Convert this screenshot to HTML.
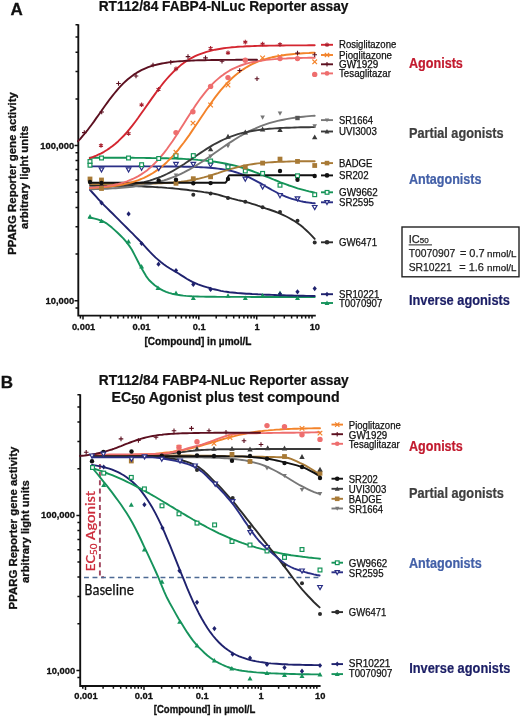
<!DOCTYPE html>
<html><head><meta charset="utf-8"><title>PPARG reporter assay</title>
<style>html,body{margin:0;padding:0;background:#fff;}svg{display:block;}</style>
</head><body>
<svg width="520" height="717" viewBox="0 0 520 717" font-family='"Liberation Sans", Arial, Helvetica, sans-serif'>
<rect width="520" height="717" fill="#fff"/>
<text x="10.6" y="14.8" font-size="17" font-weight="bold" fill="#111" stroke="#111" stroke-width="0.3">A</text>
<text x="98.7" y="11.3" font-size="14" font-weight="bold" fill="#111" textLength="249.8" lengthAdjust="spacingAndGlyphs" stroke="#111" stroke-width="0.22">RT112/84 FABP4-NLuc Reporter assay</text>
<path d="M78.3 24.2V316.6M77.4 315.6H315.8" stroke="#111" stroke-width="1.9" fill="none"/>
<path d="M75.5 307.9H78.3M74.5 300.8H78.3M75.5 254.1H78.3M75.5 226.8H78.3M75.5 207.4H78.3M75.5 192.3H78.3M75.5 180.0H78.3M75.5 169.6H78.3M75.5 160.6H78.3M75.5 152.7H78.3M74.5 145.6H78.3M75.5 98.9H78.3M75.5 71.6H78.3M75.5 52.2H78.3M75.5 37.1H78.3M75.5 24.8H78.3M80.4 315.6V318.4M83.0 315.6V319.6M100.4 315.6V318.4M110.6 315.6V318.4M117.9 315.6V318.4M123.5 315.6V318.4M128.1 315.6V318.4M131.9 315.6V318.4M135.3 315.6V318.4M138.3 315.6V318.4M140.9 315.6V319.6M158.3 315.6V318.4M168.5 315.6V318.4M175.8 315.6V318.4M181.4 315.6V318.4M186.0 315.6V318.4M189.8 315.6V318.4M193.2 315.6V318.4M196.2 315.6V318.4M198.8 315.6V319.6M216.2 315.6V318.4M226.4 315.6V318.4M233.7 315.6V318.4M239.3 315.6V318.4M243.9 315.6V318.4M247.7 315.6V318.4M251.1 315.6V318.4M254.1 315.6V318.4M256.7 315.6V319.6M274.1 315.6V318.4M284.3 315.6V318.4M291.6 315.6V318.4M297.2 315.6V318.4M301.8 315.6V318.4M305.6 315.6V318.4M309.0 315.6V318.4M312.0 315.6V318.4" stroke="#111" stroke-width="1.5" fill="none"/>
<text x="74.2" y="149.2" font-size="9.4" font-weight="bold" text-anchor="end" fill="#111" stroke="#111" stroke-width="0.3">100,000</text>
<text x="74.2" y="304.4" font-size="9.4" font-weight="bold" text-anchor="end" fill="#111" stroke="#111" stroke-width="0.3">10,000</text>
<text x="83.6" y="330" font-size="9.3" font-weight="bold" text-anchor="middle" fill="#111" stroke="#111" stroke-width="0.3">0.001</text>
<text x="141.5" y="330" font-size="9.3" font-weight="bold" text-anchor="middle" fill="#111" stroke="#111" stroke-width="0.3">0.01</text>
<text x="199.3" y="330" font-size="9.3" font-weight="bold" text-anchor="middle" fill="#111" stroke="#111" stroke-width="0.3">0.1</text>
<text x="257.2" y="330" font-size="9.3" font-weight="bold" text-anchor="middle" fill="#111" stroke="#111" stroke-width="0.3">1</text>
<text x="314.8" y="330" font-size="9.3" font-weight="bold" text-anchor="middle" fill="#111" stroke="#111" stroke-width="0.3">10</text>
<text x="144.5" y="344.6" font-size="10.2" font-weight="bold" textLength="107" lengthAdjust="spacingAndGlyphs" fill="#111" stroke="#111" stroke-width="0.3">[Compound] in µmol/L</text>
<text transform="translate(15.5 254.8) rotate(-90)" font-size="11.35" font-weight="bold" textLength="162.7" lengthAdjust="spacingAndGlyphs" fill="#111" stroke="#111" stroke-width="0.3">PPARG Reporter gene activity</text>
<text transform="translate(28 228.9) rotate(-90)" font-size="11.35" font-weight="bold" textLength="103.3" lengthAdjust="spacingAndGlyphs" fill="#111" stroke="#111" stroke-width="0.3">arbitrary light units</text>
<path d="M89.0 217.8 L91.9 218.0 L94.7 218.6 L97.6 219.4 L100.4 220.4 L103.3 221.5 L106.1 223.1 L109.0 225.2 L111.9 227.6 L114.7 230.1 L117.6 232.8 L120.4 235.5 L123.3 238.4 L126.1 241.7 L129.0 245.4 L131.9 249.7 L134.7 255.1 L137.6 260.8 L140.4 266.3 L143.3 271.3 L146.1 276.1 L149.0 280.0 L151.9 282.8 L154.7 285.2 L157.6 287.2 L160.4 289.1 L163.3 290.7 L166.1 291.9 L169.0 292.9 L171.9 293.7 L174.7 294.3 L177.6 294.8 L180.4 295.2 L183.3 295.6 L186.1 295.9 L189.0 296.1 L191.9 296.3 L194.7 296.4 L197.6 296.5 L200.4 296.6 L203.3 296.6 L206.1 296.7 L209.0 296.8 L211.8 296.8 L214.7 296.8 L217.6 296.9 L220.4 296.9 L223.3 296.9 L226.1 296.9 L229.0 296.9 L231.8 296.9 L234.7 296.9 L237.6 296.9 L240.4 296.9 L243.3 296.9 L246.1 296.9 L249.0 296.9 L251.8 297.0 L254.7 297.0 L257.6 297.0 L260.4 297.0 L263.3 297.0 L266.1 297.0 L269.0 297.0 L271.8 297.0 L274.7 297.0 L277.6 297.0 L280.4 297.0 L283.3 297.0 L286.1 297.0 L289.0 297.0 L291.8 297.0 L294.7 297.0 L297.6 297.0 L300.4 297.0 L303.3 297.0 L306.1 297.0 L309.0 297.0 L311.8 297.0 L314.7 297.0" stroke="#16935c" stroke-width="1.9" fill="none" stroke-linejoin="round" stroke-linecap="round"/>
<path d="M90.0 189.8 L92.8 193.0 L95.7 196.2 L98.5 199.3 L101.4 202.4 L104.2 205.3 L107.1 208.2 L109.9 211.0 L112.8 213.8 L115.6 216.6 L118.4 219.4 L121.3 222.3 L124.1 225.1 L127.0 228.0 L129.8 230.8 L132.7 233.7 L135.5 236.6 L138.4 239.5 L141.2 242.4 L144.0 245.4 L146.9 248.6 L149.7 251.7 L152.6 254.6 L155.4 257.4 L158.3 259.9 L161.1 262.3 L164.0 264.5 L166.8 266.5 L169.6 268.3 L172.5 270.0 L175.3 271.6 L178.2 273.3 L181.0 275.1 L183.9 276.9 L186.7 278.7 L189.6 280.4 L192.4 281.9 L195.2 283.1 L198.1 284.3 L200.9 285.3 L203.8 286.3 L206.6 287.2 L209.5 288.0 L212.3 288.8 L215.1 289.5 L218.0 290.2 L220.8 290.9 L223.7 291.4 L226.5 291.8 L229.4 292.2 L232.2 292.5 L235.1 292.8 L237.9 293.1 L240.7 293.3 L243.6 293.5 L246.4 293.7 L249.3 293.8 L252.1 294.0 L255.0 294.1 L257.8 294.3 L260.7 294.4 L263.5 294.6 L266.3 294.7 L269.2 294.8 L272.0 294.9 L274.9 295.0 L277.7 295.1 L280.6 295.2 L283.4 295.3 L286.3 295.4 L289.1 295.5 L291.9 295.5 L294.8 295.6 L297.6 295.7 L300.5 295.8 L303.3 295.8 L306.2 295.9 L309.0 295.9 L311.9 296.0 L314.7 296.0" stroke="#1f226e" stroke-width="1.9" fill="none" stroke-linejoin="round" stroke-linecap="round"/>
<path d="M90.0 185.0 L92.8 185.0 L95.7 185.0 L98.5 185.1 L101.4 185.1 L104.2 185.1 L107.1 185.2 L109.9 185.3 L112.8 185.3 L115.6 185.4 L118.4 185.5 L121.3 185.6 L124.1 185.7 L127.0 185.8 L129.8 185.9 L132.7 186.0 L135.5 186.1 L138.4 186.3 L141.2 186.4 L144.0 186.5 L146.9 186.7 L149.7 186.8 L152.6 186.9 L155.4 187.1 L158.3 187.3 L161.1 187.4 L164.0 187.6 L166.8 187.9 L169.6 188.1 L172.5 188.3 L175.3 188.6 L178.2 188.9 L181.0 189.2 L183.9 189.5 L186.7 189.8 L189.6 190.2 L192.4 190.5 L195.2 190.9 L198.1 191.3 L200.9 191.6 L203.8 192.1 L206.6 192.5 L209.5 192.9 L212.3 193.4 L215.1 194.0 L218.0 194.7 L220.8 195.5 L223.7 196.3 L226.5 197.1 L229.4 197.9 L232.2 198.7 L235.1 199.4 L237.9 200.1 L240.7 200.7 L243.6 201.4 L246.4 202.1 L249.3 202.9 L252.1 203.8 L255.0 204.7 L257.8 205.7 L260.7 206.6 L263.5 207.6 L266.3 208.6 L269.2 209.5 L272.0 210.5 L274.9 211.5 L277.7 212.6 L280.6 213.8 L283.4 215.1 L286.3 216.5 L289.1 218.0 L291.9 219.6 L294.8 221.3 L297.6 223.2 L300.5 225.3 L303.3 227.6 L306.2 230.2 L309.0 232.9 L311.9 235.8 L314.7 238.9" stroke="#2c2c2c" stroke-width="1.9" fill="none" stroke-linejoin="round" stroke-linecap="round"/>
<path d="M90.0 166.4 L92.8 166.4 L95.7 166.4 L98.5 166.4 L101.4 166.4 L104.2 166.4 L107.1 166.4 L109.9 166.4 L112.8 166.4 L115.6 166.4 L118.4 166.4 L121.3 166.4 L124.1 166.4 L127.0 166.4 L129.8 166.4 L132.7 166.4 L135.5 166.4 L138.4 166.4 L141.2 166.4 L144.0 166.4 L146.9 166.4 L149.7 166.4 L152.6 166.4 L155.4 166.5 L158.3 166.5 L161.1 166.5 L164.0 166.5 L166.8 166.5 L169.6 166.5 L172.5 166.5 L175.3 166.6 L178.2 166.6 L181.0 166.6 L183.9 166.7 L186.7 166.8 L189.6 166.8 L192.4 166.9 L195.2 167.0 L198.1 167.1 L200.9 167.2 L203.8 167.4 L206.6 167.5 L209.5 167.8 L212.3 168.0 L215.1 168.3 L218.0 168.6 L220.8 169.0 L223.7 169.4 L226.5 170.0 L229.4 170.5 L232.2 171.2 L235.1 172.0 L237.9 172.9 L240.7 173.8 L243.6 174.9 L246.4 176.1 L249.3 177.4 L252.1 178.8 L255.0 180.3 L257.8 181.8 L260.7 183.4 L263.5 185.1 L266.3 186.7 L269.2 188.4 L272.0 190.0 L274.9 191.5 L277.7 193.0 L280.6 194.4 L283.4 195.6 L286.3 196.8 L289.1 197.9 L291.9 198.8 L294.8 199.7 L297.6 200.4 L300.5 201.1 L303.3 201.7 L306.2 202.2 L309.0 202.6 L311.9 203.0 L314.7 203.3" stroke="#2a2f86" stroke-width="1.9" fill="none" stroke-linejoin="round" stroke-linecap="round"/>
<path d="M89.8 157.7 L92.6 157.7 L95.5 157.7 L98.3 157.7 L101.2 157.7 L104.0 157.7 L106.9 157.7 L109.7 157.7 L112.6 157.8 L115.4 157.8 L118.3 157.8 L121.1 157.8 L124.0 157.8 L126.8 157.8 L129.7 157.8 L132.5 157.8 L135.3 157.9 L138.2 157.9 L141.0 157.9 L143.9 157.9 L146.7 158.0 L149.6 158.0 L152.4 158.1 L155.3 158.1 L158.1 158.1 L161.0 158.2 L163.8 158.3 L166.7 158.3 L169.5 158.4 L172.4 158.5 L175.2 158.6 L178.1 158.7 L180.9 158.8 L183.7 158.9 L186.6 159.1 L189.4 159.3 L192.3 159.4 L195.1 159.6 L198.0 159.9 L200.8 160.1 L203.7 160.4 L206.5 160.7 L209.4 161.0 L212.2 161.4 L215.1 161.8 L217.9 162.2 L220.8 162.7 L223.6 163.2 L226.4 163.8 L229.3 164.4 L232.1 165.0 L235.0 165.7 L237.8 166.5 L240.7 167.3 L243.5 168.2 L246.4 169.1 L249.2 170.0 L252.1 171.0 L254.9 172.1 L257.8 173.2 L260.6 174.3 L263.5 175.4 L266.3 176.5 L269.2 177.7 L272.0 178.8 L274.8 180.0 L277.7 181.1 L280.5 182.3 L283.4 183.4 L286.2 184.4 L289.1 185.5 L291.9 186.4 L294.8 187.4 L297.6 188.3 L300.5 189.1 L303.3 189.9 L306.2 190.7 L309.0 191.4 L311.9 192.0 L314.7 192.6" stroke="#159458" stroke-width="1.9" fill="none" stroke-linejoin="round" stroke-linecap="round"/>
<path d="M90.0 184.1 L92.8 184.1 L95.7 184.1 L98.5 184.1 L101.4 184.1 L104.2 184.0 L107.1 184.0 L109.9 184.0 L112.8 184.0 L115.6 184.0 L118.4 184.0 L121.3 184.0 L124.1 184.0 L127.0 184.0 L129.8 183.9 L132.7 183.9 L135.5 183.9 L138.4 183.9 L141.2 183.8 L144.0 183.8 L146.9 183.7 L149.7 183.7 L152.6 183.6 L155.4 183.5 L158.3 183.4 L161.1 183.3 L164.0 183.1 L166.8 183.0 L169.6 182.8 L172.5 182.6 L175.3 182.3 L178.2 182.1 L181.0 181.8 L183.9 181.4 L186.7 181.0 L189.6 180.5 L192.4 180.0 L195.2 179.4 L198.1 178.8 L200.9 178.1 L203.8 177.4 L206.6 176.6 L209.5 175.8 L212.3 174.9 L215.1 174.0 L218.0 173.1 L220.8 172.1 L223.7 171.2 L226.5 170.3 L229.4 169.4 L232.2 168.6 L235.1 167.8 L237.9 167.0 L240.7 166.4 L243.6 165.7 L246.4 165.2 L249.3 164.6 L252.1 164.2 L255.0 163.8 L257.8 163.4 L260.7 163.1 L263.5 162.8 L266.3 162.6 L269.2 162.4 L272.0 162.2 L274.9 162.0 L277.7 161.9 L280.6 161.8 L283.4 161.7 L286.3 161.6 L289.1 161.5 L291.9 161.4 L294.8 161.4 L297.6 161.3 L300.5 161.3 L303.3 161.3 L306.2 161.2 L309.0 161.2 L311.9 161.2 L314.7 161.2" stroke="#a87a36" stroke-width="1.9" fill="none" stroke-linejoin="round" stroke-linecap="round"/>
<path d="M90.0 189.3 L92.8 189.2 L95.7 189.1 L98.5 189.0 L101.4 188.9 L104.2 188.8 L107.1 188.7 L109.9 188.5 L112.8 188.4 L115.6 188.2 L118.4 188.0 L121.3 187.8 L124.1 187.5 L127.0 187.3 L129.8 187.0 L132.7 186.7 L135.5 186.3 L138.4 185.9 L141.2 185.5 L144.0 185.1 L146.9 184.5 L149.7 184.0 L152.6 183.4 L155.4 182.7 L158.3 182.0 L161.1 181.2 L164.0 180.4 L166.8 179.5 L169.6 178.5 L172.5 177.4 L175.3 176.3 L178.2 175.1 L181.0 173.8 L183.9 172.4 L186.7 170.9 L189.6 169.4 L192.4 167.8 L195.2 166.1 L198.1 164.3 L200.9 162.5 L203.8 160.6 L206.6 158.7 L209.5 156.8 L212.3 154.8 L215.1 152.8 L218.0 150.8 L220.8 148.8 L223.7 146.8 L226.5 144.9 L229.4 142.9 L232.2 141.1 L235.1 139.3 L237.9 137.5 L240.7 135.8 L243.6 134.2 L246.4 132.7 L249.3 131.2 L252.1 129.8 L255.0 128.6 L257.8 127.3 L260.7 126.2 L263.5 125.1 L266.3 124.2 L269.2 123.2 L272.0 122.4 L274.9 121.6 L277.7 120.9 L280.6 120.3 L283.4 119.7 L286.3 119.1 L289.1 118.6 L291.9 118.1 L294.8 117.7 L297.6 117.3 L300.5 117.0 L303.3 116.7 L306.2 116.4 L309.0 116.1 L311.9 115.9 L314.7 115.7" stroke="#777777" stroke-width="1.9" fill="none" stroke-linejoin="round" stroke-linecap="round"/>
<path d="M90.0 187.3 L92.8 187.3 L95.7 187.2 L98.5 187.1 L101.4 187.0 L104.2 186.8 L107.1 186.7 L109.9 186.5 L112.8 186.4 L115.6 186.2 L118.4 185.9 L121.3 185.7 L124.1 185.4 L127.0 185.0 L129.8 184.7 L132.7 184.3 L135.5 183.8 L138.4 183.3 L141.2 182.7 L144.0 182.1 L146.9 181.3 L149.7 180.6 L152.6 179.7 L155.4 178.7 L158.3 177.7 L161.1 176.6 L164.0 175.3 L166.8 174.0 L169.6 172.6 L172.5 171.1 L175.3 169.5 L178.2 167.8 L181.0 166.0 L183.9 164.2 L186.7 162.3 L189.6 160.4 L192.4 158.4 L195.2 156.5 L198.1 154.5 L200.9 152.6 L203.8 150.7 L206.6 148.9 L209.5 147.1 L212.3 145.4 L215.1 143.8 L218.0 142.3 L220.8 140.8 L223.7 139.5 L226.5 138.3 L229.4 137.1 L232.2 136.1 L235.1 135.1 L237.9 134.2 L240.7 133.4 L243.6 132.7 L246.4 132.1 L249.3 131.5 L252.1 131.0 L255.0 130.5 L257.8 130.1 L260.7 129.7 L263.5 129.4 L266.3 129.1 L269.2 128.8 L272.0 128.6 L274.9 128.4 L277.7 128.2 L280.6 128.0 L283.4 127.9 L286.3 127.8 L289.1 127.7 L291.9 127.6 L294.8 127.5 L297.6 127.4 L300.5 127.3 L303.3 127.3 L306.2 127.2 L309.0 127.2 L311.9 127.1 L314.7 127.1" stroke="#3a3a3a" stroke-width="1.9" fill="none" stroke-linejoin="round" stroke-linecap="round"/>
<path d="M90.0 182.8 L91.1 182.8 L92.3 182.8 L93.4 182.8 L94.5 182.8 L95.6 182.8 L96.8 182.8 L97.9 182.8 L99.0 182.8 L100.2 182.8 L101.3 182.8 L102.4 182.8 L103.5 182.8 L104.7 182.8 L105.8 182.8 L106.9 182.8 L108.1 182.8 L109.2 182.8 L110.3 182.8 L111.5 182.8 L112.6 182.8 L113.7 182.8 L114.8 182.8 L116.0 182.8 L117.1 182.8 L118.2 182.8 L119.4 182.8 L120.5 182.8 L121.6 182.8 L122.7 182.8 L123.9 182.8 L125.0 182.8 L126.1 182.8 L127.3 182.8 L128.4 182.8 L129.5 182.8 L130.6 182.8 L131.8 182.8 L132.9 182.8 L134.0 182.8 L135.2 182.8 L136.3 182.8 L137.4 182.8 L138.6 182.8 L139.7 182.8 L140.8 182.8 L141.9 182.8 L143.1 182.8 L144.2 182.8 L145.3 182.8 L146.5 182.8 L147.6 182.8 L148.7 182.8 L149.8 182.8 L151.0 182.8 L152.1 182.8 L153.2 182.8 L154.4 182.8 L155.5 182.8 L156.6 182.8 L157.7 182.8 L158.9 182.8 L160.0 182.8 L161.1 182.8 L162.3 182.8 L163.4 182.8 L164.5 182.8 L165.7 182.8 L166.8 182.8 L167.9 182.8 L169.0 182.8 L170.2 182.8 L171.3 182.8 L172.4 182.8 L173.6 182.8 L174.7 182.8 L175.8 182.8 L176.9 182.8 L178.1 182.8 L179.2 182.8 L180.3 182.8 L181.5 182.8 L182.6 182.8 L183.7 182.8 L184.8 182.8 L186.0 182.8 L187.1 182.8 L188.2 182.8 L189.4 182.8 L190.5 182.8 L191.6 182.8 L192.8 182.8 L193.9 182.8 L195.0 182.8 L196.1 182.8 L197.3 182.8 L198.4 182.8 L199.5 182.8 L200.7 182.8 L201.8 182.8 L202.9 182.8 L204.0 182.8 L205.2 182.8 L206.3 182.8 L207.4 182.8 L208.6 182.8 L209.7 182.8 L210.8 182.8 L211.9 182.8 L213.1 182.8 L214.2 182.8 L215.3 182.8 L216.5 182.8 L217.6 182.8 L218.7 182.8 L219.9 182.8 L221.0 182.8 L222.1 182.8 L223.2 182.8 L224.4 182.8 L225.5 182.7 L226.6 181.4 L227.8 177.2 L228.9 175.4 L230.0 175.2 L231.1 175.2 L232.3 175.2 L233.4 175.2 L234.5 175.2 L235.7 175.2 L236.8 175.2 L237.9 175.2 L239.0 175.2 L240.2 175.2 L241.3 175.2 L242.4 175.2 L243.6 175.2 L244.7 175.2 L245.8 175.2 L247.0 175.2 L248.1 175.2 L249.2 175.2 L250.3 175.2 L251.5 175.2 L252.6 175.2 L253.7 175.2 L254.9 175.2 L256.0 175.2 L257.1 175.2 L258.2 175.2 L259.4 175.2 L260.5 175.2 L261.6 175.2 L262.8 175.2 L263.9 175.2 L265.0 175.2 L266.1 175.2 L267.3 175.2 L268.4 175.2 L269.5 175.2 L270.7 175.2 L271.8 175.2 L272.9 175.2 L274.1 175.2 L275.2 175.2 L276.3 175.2 L277.4 175.2 L278.6 175.2 L279.7 175.2 L280.8 175.2 L282.0 175.2 L283.1 175.2 L284.2 175.2 L285.3 175.2 L286.5 175.2 L287.6 175.2 L288.7 175.2 L289.9 175.2 L291.0 175.2 L292.1 175.2 L293.2 175.2 L294.4 175.2 L295.5 175.2 L296.6 175.2 L297.8 175.2 L298.9 175.2 L300.0 175.2 L301.2 175.2 L302.3 175.2 L303.4 175.2 L304.5 175.2 L305.7 175.2 L306.8 175.2 L307.9 175.2 L309.1 175.2 L310.2 175.2 L311.3 175.2 L312.4 175.2 L313.6 175.2 L314.7 175.2" stroke="#111111" stroke-width="1.9" fill="none" stroke-linejoin="round" stroke-linecap="round"/>
<path d="M90.0 188.1 L92.8 187.9 L95.7 187.7 L98.5 187.5 L101.4 187.3 L104.2 187.1 L107.1 186.8 L109.9 186.5 L112.8 186.1 L115.6 185.7 L118.4 185.3 L121.3 184.8 L124.1 184.2 L127.0 183.5 L129.8 182.8 L132.7 182.0 L135.5 181.1 L138.4 180.1 L141.2 179.0 L144.0 177.8 L146.9 176.4 L149.7 174.9 L152.6 173.2 L155.4 171.4 L158.3 169.4 L161.1 167.2 L164.0 164.8 L166.8 162.2 L169.6 159.4 L172.5 156.4 L175.3 153.2 L178.2 149.8 L181.0 146.2 L183.9 142.5 L186.7 138.6 L189.6 134.6 L192.4 130.4 L195.2 126.2 L198.1 122.0 L200.9 117.7 L203.8 113.5 L206.6 109.3 L209.5 105.2 L212.3 101.2 L215.1 97.4 L218.0 93.7 L220.8 90.2 L223.7 86.8 L226.5 83.7 L229.4 80.8 L232.2 78.0 L235.1 75.5 L237.9 73.2 L240.7 71.0 L243.6 69.1 L246.4 67.3 L249.3 65.7 L252.1 64.2 L255.0 62.9 L257.8 61.7 L260.7 60.6 L263.5 59.6 L266.3 58.8 L269.2 58.0 L272.0 57.3 L274.9 56.7 L277.7 56.1 L280.6 55.7 L283.4 55.2 L286.3 54.8 L289.1 54.5 L291.9 54.2 L294.8 53.9 L297.6 53.7 L300.5 53.5 L303.3 53.3 L306.2 53.1 L309.0 53.0 L311.9 52.8 L314.7 52.7" stroke="#f3832a" stroke-width="1.9" fill="none" stroke-linejoin="round" stroke-linecap="round"/>
<path d="M90.0 187.8 L92.8 187.6 L95.7 187.4 L98.5 187.1 L101.4 186.8 L104.2 186.5 L107.1 186.1 L109.9 185.6 L112.8 185.1 L115.6 184.5 L118.4 183.9 L121.3 183.1 L124.1 182.3 L127.0 181.3 L129.8 180.2 L132.7 179.0 L135.5 177.6 L138.4 176.1 L141.2 174.4 L144.0 172.5 L146.9 170.4 L149.7 168.1 L152.6 165.5 L155.4 162.7 L158.3 159.7 L161.1 156.4 L164.0 152.9 L166.8 149.2 L169.6 145.3 L172.5 141.2 L175.3 136.9 L178.2 132.5 L181.0 128.1 L183.9 123.5 L186.7 119.0 L189.6 114.5 L192.4 110.2 L195.2 105.9 L198.1 101.8 L200.9 97.8 L203.8 94.1 L206.6 90.6 L209.5 87.3 L212.3 84.2 L215.1 81.4 L218.0 78.9 L220.8 76.5 L223.7 74.4 L226.5 72.5 L229.4 70.7 L232.2 69.2 L235.1 67.8 L237.9 66.6 L240.7 65.5 L243.6 64.5 L246.4 63.7 L249.3 62.9 L252.1 62.2 L255.0 61.7 L257.8 61.1 L260.7 60.7 L263.5 60.3 L266.3 59.9 L269.2 59.6 L272.0 59.4 L274.9 59.1 L277.7 58.9 L280.6 58.7 L283.4 58.6 L286.3 58.5 L289.1 58.3 L291.9 58.2 L294.8 58.1 L297.6 58.1 L300.5 58.0 L303.3 57.9 L306.2 57.9 L309.0 57.8 L311.9 57.8 L314.7 57.8" stroke="#ee6e6e" stroke-width="1.9" fill="none" stroke-linejoin="round" stroke-linecap="round"/>
<path d="M89.8 158.1 L92.6 157.1 L95.5 156.0 L98.3 154.7 L101.2 153.3 L104.0 151.8 L106.9 150.0 L109.7 148.1 L112.6 146.0 L115.4 143.7 L118.3 141.2 L121.1 138.4 L124.0 135.5 L126.8 132.3 L129.7 128.9 L132.5 125.4 L135.3 121.7 L138.2 117.8 L141.0 113.8 L143.9 109.8 L146.7 105.7 L149.6 101.6 L152.4 97.6 L155.3 93.6 L158.1 89.7 L161.0 86.0 L163.8 82.4 L166.7 79.0 L169.5 75.8 L172.4 72.8 L175.2 70.0 L178.1 67.5 L180.9 65.1 L183.7 62.9 L186.6 61.0 L189.4 59.2 L192.3 57.6 L195.1 56.2 L198.0 54.9 L200.8 53.8 L203.7 52.8 L206.5 51.9 L209.4 51.1 L212.2 50.4 L215.1 49.7 L217.9 49.2 L220.8 48.7 L223.6 48.3 L226.4 47.9 L229.3 47.6 L232.1 47.3 L235.0 47.1 L237.8 46.8 L240.7 46.6 L243.5 46.5 L246.4 46.3 L249.2 46.2 L252.1 46.1 L254.9 46.0 L257.8 45.9 L260.6 45.8 L263.5 45.8 L266.3 45.7 L269.2 45.6 L272.0 45.6 L274.8 45.6 L277.7 45.5 L280.5 45.5 L283.4 45.5 L286.2 45.4 L289.1 45.4 L291.9 45.4 L294.8 45.4 L297.6 45.4 L300.5 45.4 L303.3 45.4 L306.2 45.4 L309.0 45.3 L311.9 45.3 L314.7 45.3" stroke="#d42630" stroke-width="1.9" fill="none" stroke-linejoin="round" stroke-linecap="round"/>
<path d="M78.0 141.2 L80.3 138.8 L82.5 136.2 L84.8 133.5 L87.1 130.7 L89.3 127.8 L91.6 124.7 L93.9 121.6 L96.1 118.4 L98.4 115.2 L100.7 112.0 L102.9 108.7 L105.2 105.5 L107.5 102.4 L109.7 99.3 L112.0 96.4 L114.3 93.5 L116.5 90.8 L118.8 88.2 L121.1 85.7 L123.3 83.4 L125.6 81.3 L127.8 79.3 L130.1 77.4 L132.4 75.7 L134.6 74.1 L136.9 72.7 L139.2 71.4 L141.4 70.2 L143.7 69.1 L146.0 68.1 L148.2 67.2 L150.5 66.4 L152.8 65.7 L155.0 65.1 L157.3 64.5 L159.6 64.0 L161.8 63.5 L164.1 63.1 L166.4 62.7 L168.6 62.4 L170.9 62.1 L173.2 61.8 L175.4 61.6 L177.7 61.4 L180.0 61.2 L182.2 61.1 L184.5 60.9 L186.8 60.8 L189.0 60.7 L191.3 60.6 L193.6 60.5 L195.8 60.4 L198.1 60.3 L200.4 60.3 L202.6 60.2 L204.9 60.2 L207.2 60.1 L209.4 60.1 L211.7 60.0 L213.9 60.0 L216.2 60.0 L218.5 60.0 L220.7 59.9 L223.0 59.9 L225.3 59.9 L227.5 59.9 L229.8 59.9 L232.1 59.9 L234.3 59.9 L236.6 59.8 L238.9 59.8 L241.1 59.8 L243.4 59.8 L245.7 59.8 L247.9 59.8 L250.2 59.8 L252.5 59.8 L254.7 59.8 L257.0 59.8" stroke="#5c1020" stroke-width="1.9" fill="none" stroke-linejoin="round" stroke-linecap="round"/>
<path d="M90.0 214.0 L92.5 218.5 L87.5 218.5Z" fill="#16935c"/>
<path d="M101.5 218.5 L104.0 223.0 L99.0 223.0Z" fill="#16935c"/>
<path d="M128.5 239.0 L131.0 243.5 L126.0 243.5Z" fill="#16935c"/>
<path d="M141.6 264.1 L144.1 268.6 L139.1 268.6Z" fill="#16935c"/>
<path d="M158.0 285.5 L160.5 290.0 L155.5 290.0Z" fill="#16935c"/>
<path d="M176.0 290.4 L178.5 294.9 L173.5 294.9Z" fill="#16935c"/>
<path d="M193.3 295.5 L195.8 300.0 L190.8 300.0Z" fill="#16935c"/>
<path d="M228.0 293.2 L230.5 297.7 L225.5 297.7Z" fill="#16935c"/>
<path d="M245.3 295.5 L247.8 300.0 L242.8 300.0Z" fill="#16935c"/>
<path d="M262.6 293.0 L265.1 297.5 L260.1 297.5Z" fill="#16935c"/>
<path d="M280.0 290.5 L282.5 295.0 L277.5 295.0Z" fill="#16935c"/>
<path d="M297.5 295.5 L300.0 300.0 L295.0 300.0Z" fill="#16935c"/>
<path d="M101.5 200.2 L103.6 202.8 L101.5 205.4 L99.4 202.8Z" fill="#1f226e"/>
<path d="M128.6 211.3 L130.7 213.9 L128.6 216.5 L126.5 213.9Z" fill="#1f226e"/>
<path d="M141.6 240.9 L143.7 243.5 L141.6 246.1 L139.5 243.5Z" fill="#1f226e"/>
<path d="M158.5 261.6 L160.6 264.2 L158.5 266.8 L156.4 264.2Z" fill="#1f226e"/>
<path d="M176.0 267.9 L178.1 270.5 L176.0 273.1 L173.9 270.5Z" fill="#1f226e"/>
<path d="M193.3 281.8 L195.4 284.4 L193.3 287.0 L191.2 284.4Z" fill="#1f226e"/>
<path d="M210.6 286.8 L212.7 289.4 L210.6 292.0 L208.5 289.4Z" fill="#1f226e"/>
<path d="M280.0 291.4 L282.1 294.0 L280.0 296.6 L277.9 294.0Z" fill="#1f226e"/>
<path d="M297.5 289.2 L299.6 291.8 L297.5 294.4 L295.4 291.8Z" fill="#1f226e"/>
<path d="M314.7 286.0 L316.8 288.6 L314.7 291.2 L312.6 288.6Z" fill="#1f226e"/>
<circle cx="193.3" cy="194.8" r="2.0" fill="#2c2c2c"/>
<circle cx="210.6" cy="193.4" r="2.0" fill="#2c2c2c"/>
<circle cx="228.0" cy="198.1" r="2.0" fill="#2c2c2c"/>
<circle cx="245.3" cy="201.8" r="2.0" fill="#2c2c2c"/>
<circle cx="262.6" cy="207.3" r="2.0" fill="#2c2c2c"/>
<circle cx="280.0" cy="212.0" r="2.0" fill="#2c2c2c"/>
<circle cx="297.5" cy="220.7" r="2.0" fill="#2c2c2c"/>
<circle cx="314.7" cy="242.4" r="2.0" fill="#2c2c2c"/>
<path d="M101.5 172.0 L103.8 167.9 L99.2 167.9Z" fill="#fff" stroke="#2a2f86" stroke-width="1.2"/>
<path d="M128.6 172.0 L130.9 167.9 L126.3 167.9Z" fill="#fff" stroke="#2a2f86" stroke-width="1.2"/>
<path d="M141.6 170.3 L143.9 166.2 L139.3 166.2Z" fill="#fff" stroke="#2a2f86" stroke-width="1.2"/>
<path d="M158.7 170.6 L161.0 166.5 L156.4 166.5Z" fill="#fff" stroke="#2a2f86" stroke-width="1.2"/>
<path d="M176.0 166.5 L178.3 162.4 L173.7 162.4Z" fill="#fff" stroke="#2a2f86" stroke-width="1.2"/>
<path d="M193.3 166.5 L195.6 162.4 L191.0 162.4Z" fill="#fff" stroke="#2a2f86" stroke-width="1.2"/>
<path d="M210.6 167.3 L212.9 163.2 L208.3 163.2Z" fill="#fff" stroke="#2a2f86" stroke-width="1.2"/>
<path d="M228.0 168.9 L230.3 164.8 L225.7 164.8Z" fill="#fff" stroke="#2a2f86" stroke-width="1.2"/>
<path d="M245.3 181.2 L247.6 177.1 L243.0 177.1Z" fill="#fff" stroke="#2a2f86" stroke-width="1.2"/>
<path d="M262.6 189.1 L264.9 185.0 L260.3 185.0Z" fill="#fff" stroke="#2a2f86" stroke-width="1.2"/>
<path d="M280.0 197.8 L282.3 193.7 L277.7 193.7Z" fill="#fff" stroke="#2a2f86" stroke-width="1.2"/>
<path d="M297.5 200.9 L299.8 196.8 L295.2 196.8Z" fill="#fff" stroke="#2a2f86" stroke-width="1.2"/>
<path d="M314.7 209.6 L317.0 205.5 L312.4 205.5Z" fill="#fff" stroke="#2a2f86" stroke-width="1.2"/>
<rect x="88.1" y="159.6" width="3.8" height="3.8" fill="#fff" stroke="#159458" stroke-width="1.2"/>
<rect x="88.1" y="163.3" width="3.8" height="3.8" fill="#fff" stroke="#159458" stroke-width="1.2"/>
<rect x="99.6" y="156.1" width="3.8" height="3.8" fill="#fff" stroke="#159458" stroke-width="1.2"/>
<rect x="126.6" y="156.1" width="3.8" height="3.8" fill="#fff" stroke="#159458" stroke-width="1.2"/>
<rect x="139.7" y="162.8" width="3.8" height="3.8" fill="#fff" stroke="#159458" stroke-width="1.2"/>
<rect x="156.8" y="156.6" width="3.8" height="3.8" fill="#fff" stroke="#159458" stroke-width="1.2"/>
<rect x="174.1" y="153.7" width="3.8" height="3.8" fill="#fff" stroke="#159458" stroke-width="1.2"/>
<rect x="191.4" y="153.7" width="3.8" height="3.8" fill="#fff" stroke="#159458" stroke-width="1.2"/>
<rect x="208.7" y="159.1" width="3.8" height="3.8" fill="#fff" stroke="#159458" stroke-width="1.2"/>
<rect x="226.1" y="164.9" width="3.8" height="3.8" fill="#fff" stroke="#159458" stroke-width="1.2"/>
<rect x="243.4" y="169.1" width="3.8" height="3.8" fill="#fff" stroke="#159458" stroke-width="1.2"/>
<rect x="260.7" y="171.5" width="3.8" height="3.8" fill="#fff" stroke="#159458" stroke-width="1.2"/>
<rect x="278.1" y="183.3" width="3.8" height="3.8" fill="#fff" stroke="#159458" stroke-width="1.2"/>
<rect x="295.6" y="173.9" width="3.8" height="3.8" fill="#fff" stroke="#159458" stroke-width="1.2"/>
<rect x="312.8" y="192.8" width="3.8" height="3.8" fill="#fff" stroke="#159458" stroke-width="1.2"/>
<rect x="87.6" y="176.6" width="4.8" height="4.8" fill="#a87a36"/>
<rect x="99.1" y="177.6" width="4.8" height="4.8" fill="#a87a36"/>
<rect x="99.1" y="186.1" width="4.8" height="4.8" fill="#a87a36"/>
<rect x="173.6" y="180.9" width="4.8" height="4.8" fill="#a87a36"/>
<rect x="190.9" y="176.3" width="4.8" height="4.8" fill="#a87a36"/>
<rect x="208.2" y="174.4" width="4.8" height="4.8" fill="#a87a36"/>
<rect x="242.9" y="164.6" width="4.8" height="4.8" fill="#a87a36"/>
<rect x="260.2" y="160.7" width="4.8" height="4.8" fill="#a87a36"/>
<rect x="277.6" y="156.7" width="4.8" height="4.8" fill="#a87a36"/>
<rect x="295.1" y="159.0" width="4.8" height="4.8" fill="#a87a36"/>
<rect x="312.3" y="163.1" width="4.8" height="4.8" fill="#a87a36"/>
<path d="M176.0 177.5 L178.3 173.4 L173.7 173.4Z" fill="#777777"/>
<path d="M210.6 158.5 L212.9 154.4 L208.3 154.4Z" fill="#777777"/>
<path d="M228.0 148.3 L230.3 144.2 L225.7 144.2Z" fill="#777777"/>
<path d="M262.6 119.7 L264.9 115.6 L260.3 115.6Z" fill="#777777"/>
<path d="M280.0 115.7 L282.3 111.6 L277.7 111.6Z" fill="#777777"/>
<path d="M314.7 128.3 L317.0 124.2 L312.4 124.2Z" fill="#777777"/>
<path d="M210.6 146.4 L213.3 151.3 L207.9 151.3Z" fill="#3a3a3a"/>
<path d="M228.0 133.8 L230.7 138.7 L225.3 138.7Z" fill="#3a3a3a"/>
<path d="M245.3 129.6 L248.0 134.5 L242.6 134.5Z" fill="#3a3a3a"/>
<path d="M262.6 126.5 L265.3 131.4 L259.9 131.4Z" fill="#3a3a3a"/>
<path d="M280.0 127.0 L282.7 131.9 L277.3 131.9Z" fill="#3a3a3a"/>
<path d="M314.7 134.4 L317.4 139.3 L312.0 139.3Z" fill="#3a3a3a"/>
<circle cx="90.0" cy="182.0" r="2.2" fill="#111111"/>
<circle cx="101.5" cy="183.0" r="2.2" fill="#111111"/>
<circle cx="158.7" cy="180.4" r="2.2" fill="#111111"/>
<circle cx="176.0" cy="179.8" r="2.2" fill="#111111"/>
<circle cx="193.3" cy="183.3" r="2.2" fill="#111111"/>
<circle cx="210.6" cy="183.1" r="2.2" fill="#111111"/>
<circle cx="228.0" cy="178.9" r="2.2" fill="#111111"/>
<circle cx="280.0" cy="171.0" r="2.2" fill="#111111"/>
<circle cx="297.5" cy="179.7" r="2.2" fill="#111111"/>
<circle cx="314.7" cy="176.0" r="2.2" fill="#111111"/>
<path d="M173.7 150.0L178.3 154.6M178.3 150.0L173.7 154.6" stroke="#f3832a" stroke-width="1.2" fill="none"/>
<path d="M190.7 120.8L195.3 125.4M195.3 120.8L190.7 125.4" stroke="#f3832a" stroke-width="1.2" fill="none"/>
<path d="M208.3 102.7L212.9 107.3M212.9 102.7L208.3 107.3" stroke="#f3832a" stroke-width="1.2" fill="none"/>
<path d="M225.7 82.7L230.3 87.3M230.3 82.7L225.7 87.3" stroke="#f3832a" stroke-width="1.2" fill="none"/>
<path d="M260.3 55.6L264.9 60.2M264.9 55.6L260.3 60.2" stroke="#f3832a" stroke-width="1.2" fill="none"/>
<path d="M277.7 54.3L282.3 58.9M282.3 54.3L277.7 58.9" stroke="#f3832a" stroke-width="1.2" fill="none"/>
<path d="M312.4 59.5L317.0 64.1M317.0 59.5L312.4 64.1" stroke="#f3832a" stroke-width="1.2" fill="none"/>
<circle cx="176.0" cy="132.6" r="2.7" fill="#ee6e6e"/>
<circle cx="192.9" cy="111.8" r="2.7" fill="#ee6e6e"/>
<circle cx="210.6" cy="86.4" r="2.7" fill="#ee6e6e"/>
<circle cx="228.0" cy="77.6" r="2.7" fill="#ee6e6e"/>
<circle cx="245.3" cy="60.2" r="2.7" fill="#ee6e6e"/>
<circle cx="280.0" cy="58.6" r="2.7" fill="#ee6e6e"/>
<circle cx="297.5" cy="58.6" r="2.7" fill="#ee6e6e"/>
<circle cx="314.7" cy="74.4" r="2.7" fill="#ee6e6e"/>
<path d="M101.0 143.2L101.0 147.8M103.0 144.4L99.0 146.6M103.0 146.6L99.0 144.4" stroke="#a8202e" stroke-width="1.1" fill="none"/>
<path d="M128.6 131.2L128.6 135.8M130.6 132.4L126.6 134.6M130.6 134.6L126.6 132.4" stroke="#a8202e" stroke-width="1.1" fill="none"/>
<path d="M141.6 102.5L141.6 107.1M143.6 103.7L139.6 105.9M143.6 105.9L139.6 103.7" stroke="#a8202e" stroke-width="1.1" fill="none"/>
<path d="M158.5 87.1L158.5 91.7M160.5 88.3L156.5 90.5M160.5 90.5L156.5 88.3" stroke="#a8202e" stroke-width="1.1" fill="none"/>
<path d="M176.0 66.6L176.0 71.2M178.0 67.8L174.0 70.0M178.0 70.0L174.0 67.8" stroke="#a8202e" stroke-width="1.1" fill="none"/>
<path d="M210.6 46.1L210.6 50.7M212.6 47.3L208.6 49.5M212.6 49.5L208.6 47.3" stroke="#a8202e" stroke-width="1.1" fill="none"/>
<path d="M228.0 50.5L228.0 55.1M230.0 51.7L226.0 53.9M230.0 53.9L226.0 51.7" stroke="#a8202e" stroke-width="1.1" fill="none"/>
<path d="M245.3 39.8L245.3 44.4M247.3 41.0L243.3 43.2M247.3 43.2L243.3 41.0" stroke="#a8202e" stroke-width="1.1" fill="none"/>
<path d="M262.6 41.7L262.6 46.3M264.6 42.9L260.6 45.1M264.6 45.1L260.6 42.9" stroke="#a8202e" stroke-width="1.1" fill="none"/>
<path d="M280.0 42.2L280.0 46.8M282.0 43.4L278.0 45.6M282.0 45.6L278.0 43.4" stroke="#a8202e" stroke-width="1.1" fill="none"/>
<path d="M82.0 132.6H86.6M84.3 130.3V134.9" stroke="#5c1020" stroke-width="1.1" fill="none"/>
<path d="M99.4 112.0H104.0M101.7 109.7V114.3" stroke="#5c1020" stroke-width="1.1" fill="none"/>
<path d="M116.2 83.5H120.8M118.5 81.2V85.8" stroke="#5c1020" stroke-width="1.1" fill="none"/>
<path d="M133.7 76.0H138.3M136.0 73.7V78.3" stroke="#5c1020" stroke-width="1.1" fill="none"/>
<path d="M150.7 65.0H155.3M153.0 62.7V67.3" stroke="#5c1020" stroke-width="1.1" fill="none"/>
<path d="M168.5 62.3H173.1M170.8 60.0V64.6" stroke="#5c1020" stroke-width="1.1" fill="none"/>
<path d="M185.7 56.6H190.3M188.0 54.3V58.9" stroke="#5c1020" stroke-width="1.1" fill="none"/>
<path d="M203.2 57.9H207.8M205.5 55.6V60.2" stroke="#5c1020" stroke-width="1.1" fill="none"/>
<path d="M219.7 61.3H224.3M222.0 59.0V63.6" stroke="#5c1020" stroke-width="1.1" fill="none"/>
<path d="M237.4 70.5H242.0M239.7 68.2V72.8" stroke="#5c1020" stroke-width="1.1" fill="none"/>
<path d="M254.7 78.8H259.3M257.0 76.5V81.1" stroke="#5c1020" stroke-width="1.1" fill="none"/>
<path d="M295.2 53.1H299.8M297.5 50.8V55.4" stroke="#5c1020" stroke-width="1.1" fill="none"/>
<path d="M312.4 54.7H317.0M314.7 52.4V57.0" stroke="#5c1020" stroke-width="1.1" fill="none"/>
<rect x="295.3" y="115.8" width="4.4" height="4.4" fill="#555555"/>
<path d="M321 44.8H333" stroke="#d42630" stroke-width="1.9"/>
<path d="M327.0 42.6L327.0 47.0M328.9 43.7L325.1 45.9M328.9 45.9L325.1 43.7" stroke="#a8202e" stroke-width="1.1" fill="none"/>
<text x="339" y="48.4" font-size="10.3" textLength="57.3" lengthAdjust="spacingAndGlyphs" fill="#111" stroke="#111" stroke-width="0.25">Rosiglitazone</text>
<path d="M321 55H333" stroke="#f3832a" stroke-width="1.9"/>
<path d="M324.8 52.8L329.2 57.2M329.2 52.8L324.8 57.2" stroke="#f3832a" stroke-width="1.2" fill="none"/>
<text x="339" y="58.6" font-size="10.3" textLength="53.0" lengthAdjust="spacingAndGlyphs" fill="#111" stroke="#111" stroke-width="0.25">Pioglitazone</text>
<path d="M321 64.3H333" stroke="#5c1020" stroke-width="1.9"/>
<path d="M324.8 64.3H329.2M327.0 62.1V66.5" stroke="#5c1020" stroke-width="1.1" fill="none"/>
<text x="339" y="67.9" font-size="10.3" textLength="39.3" lengthAdjust="spacingAndGlyphs" fill="#111" stroke="#111" stroke-width="0.25">GW1929</text>
<path d="M321 73.4H333" stroke="#ee6e6e" stroke-width="1.9"/>
<circle cx="327.0" cy="73.4" r="2.3" fill="#ee6e6e"/>
<text x="339" y="77.0" font-size="10.3" textLength="52.0" lengthAdjust="spacingAndGlyphs" fill="#111" stroke="#111" stroke-width="0.25">Tesaglitazar</text>
<path d="M321 120.1H333" stroke="#777777" stroke-width="1.9"/>
<path d="M327.0 122.3 L329.2 118.4 L324.8 118.4Z" fill="#777777"/>
<text x="339" y="123.7" font-size="10.3" textLength="34.0" lengthAdjust="spacingAndGlyphs" fill="#111" stroke="#111" stroke-width="0.25">SR1664</text>
<path d="M321 131.5H333" stroke="#3a3a3a" stroke-width="1.9"/>
<path d="M327.0 129.1 L329.4 133.4 L324.6 133.4Z" fill="#3a3a3a"/>
<text x="339" y="135.1" font-size="10.3" textLength="37.8" lengthAdjust="spacingAndGlyphs" fill="#111" stroke="#111" stroke-width="0.25">UVI3003</text>
<path d="M321 163.1H333" stroke="#a87a36" stroke-width="1.9"/>
<rect x="324.7" y="160.8" width="4.6" height="4.6" fill="#a87a36"/>
<text x="339" y="166.7" font-size="10.3" textLength="33.4" lengthAdjust="spacingAndGlyphs" fill="#111" stroke="#111" stroke-width="0.25">BADGE</text>
<path d="M321 175.4H333" stroke="#111111" stroke-width="1.9"/>
<circle cx="327.0" cy="175.4" r="2.3" fill="#111111"/>
<text x="339" y="179.0" font-size="10.3" textLength="29.6" lengthAdjust="spacingAndGlyphs" fill="#111" stroke="#111" stroke-width="0.25">SR202</text>
<path d="M321 192.3H333" stroke="#159458" stroke-width="1.9"/>
<rect x="325.2" y="190.5" width="3.7" height="3.7" fill="#fff" stroke="#159458" stroke-width="1.2"/>
<text x="339" y="195.9" font-size="10.3" textLength="38.8" lengthAdjust="spacingAndGlyphs" fill="#111" stroke="#111" stroke-width="0.25">GW9662</text>
<path d="M321 202.3H333" stroke="#2a2f86" stroke-width="1.9"/>
<path d="M327.0 204.5 L329.2 200.6 L324.8 200.6Z" fill="#fff" stroke="#2a2f86" stroke-width="1.2"/>
<text x="339" y="205.9" font-size="10.3" textLength="34.9" lengthAdjust="spacingAndGlyphs" fill="#111" stroke="#111" stroke-width="0.25">SR2595</text>
<path d="M321 242.3H333" stroke="#2c2c2c" stroke-width="1.9"/>
<circle cx="327.0" cy="242.3" r="2.3" fill="#2c2c2c"/>
<text x="339" y="245.9" font-size="10.3" textLength="38.0" lengthAdjust="spacingAndGlyphs" fill="#111" stroke="#111" stroke-width="0.25">GW6471</text>
<path d="M321 294.2H333" stroke="#1f226e" stroke-width="1.9"/>
<path d="M327.0 291.7 L329.0 294.2 L327.0 296.7 L325.0 294.2Z" fill="#1f226e"/>
<text x="339" y="297.8" font-size="10.3" textLength="40.3" lengthAdjust="spacingAndGlyphs" fill="#111" stroke="#111" stroke-width="0.25">SR10221</text>
<path d="M321 303H333" stroke="#16935c" stroke-width="1.9"/>
<path d="M327.0 300.6 L329.4 304.9 L324.6 304.9Z" fill="#16935c"/>
<text x="339" y="306.6" font-size="10.3" textLength="43.3" lengthAdjust="spacingAndGlyphs" fill="#111" stroke="#111" stroke-width="0.25">T0070907</text>
<text x="408.9" y="67.9" font-size="14" font-weight="bold" fill="#c21a2e" textLength="54" lengthAdjust="spacingAndGlyphs" stroke="#c21a2e" stroke-width="0.22">Agonists</text>
<text x="408.9" y="138.2" font-size="14" font-weight="bold" fill="#3f3f3f" textLength="94.8" lengthAdjust="spacingAndGlyphs" stroke="#3f3f3f" stroke-width="0.22">Partial agonists</text>
<text x="408.9" y="184.3" font-size="14" font-weight="bold" fill="#4360a8" textLength="72.6" lengthAdjust="spacingAndGlyphs" stroke="#4360a8" stroke-width="0.22">Antagonists</text>
<text x="408.9" y="305.1" font-size="14" font-weight="bold" fill="#1c1f66" textLength="101" lengthAdjust="spacingAndGlyphs" stroke="#1c1f66" stroke-width="0.22">Inverse agonists</text>
<rect x="402" y="227" width="117" height="49.8" fill="#fff" stroke="#222" stroke-width="1.4"/>
<text x="408.7" y="242.5" font-size="11" fill="#222" stroke="#222" stroke-width="0.25">IC<tspan font-size="8" dy="0.8">50</tspan></text>
<path d="M408.7 244.9H432" stroke="#222" stroke-width="1"/>
<text x="408.7" y="257" font-size="11" fill="#222" stroke="#222" stroke-width="0.25"><tspan textLength="46.5" lengthAdjust="spacingAndGlyphs">T0070907</tspan><tspan x="459.9">= 0.7</tspan><tspan x="487.1" font-size="9" textLength="29.4" lengthAdjust="spacingAndGlyphs">nmol/L</tspan></text>
<text x="408.7" y="270.5" font-size="11" fill="#222" stroke="#222" stroke-width="0.25"><tspan textLength="43.1" lengthAdjust="spacingAndGlyphs">SR10221</tspan><tspan x="459.2">= 1.6</tspan><tspan x="487.1" font-size="9" textLength="29.4" lengthAdjust="spacingAndGlyphs">nmol/L</tspan></text>
<text x="0.8" y="387.6" font-size="17" font-weight="bold" fill="#111" stroke="#111" stroke-width="0.3">B</text>
<text x="98.7" y="385.2" font-size="14" font-weight="bold" fill="#111" textLength="250.1" lengthAdjust="spacingAndGlyphs" stroke="#111" stroke-width="0.22">RT112/84 FABP4-NLuc Reporter assay</text>
<text x="111.6" y="401.5" font-size="14" font-weight="bold" fill="#111" textLength="228" lengthAdjust="spacingAndGlyphs" stroke="#111" stroke-width="0.22">EC<tspan font-size="12.6" dy="2.8">50</tspan><tspan dy="-2.8"> Agonist plus test compound</tspan></text>
<path d="M80.2 394.2V687.0M79.3 686H320.6" stroke="#111" stroke-width="1.9" fill="none"/>
<path d="M77.4 677.5H80.2M76.4 670.4H80.2M77.4 623.7H80.2M77.4 596.4H80.2M77.4 577.1H80.2M77.4 562.1H80.2M77.4 549.8H80.2M77.4 539.4H80.2M77.4 530.4H80.2M77.4 522.5H80.2M76.4 515.4H80.2M77.4 468.7H80.2M77.4 441.4H80.2M77.4 422.1H80.2M77.4 407.1H80.2M77.4 394.8H80.2M82.8 686V688.8M85.5 686V690.0M103.1 686V688.8M113.4 686V688.8M120.7 686V688.8M126.4 686V688.8M131.0 686V688.8M134.9 686V688.8M138.3 686V688.8M141.3 686V688.8M144.0 686V690.0M161.6 686V688.8M171.9 686V688.8M179.2 686V688.8M184.9 686V688.8M189.5 686V688.8M193.4 686V688.8M196.8 686V688.8M199.8 686V688.8M202.5 686V690.0M220.1 686V688.8M230.4 686V688.8M237.7 686V688.8M243.4 686V688.8M248.0 686V688.8M251.9 686V688.8M255.3 686V688.8M258.3 686V688.8M261.0 686V690.0M278.6 686V688.8M288.9 686V688.8M296.2 686V688.8M301.9 686V688.8M306.5 686V688.8M310.4 686V688.8M313.8 686V688.8M316.8 686V688.8" stroke="#111" stroke-width="1.5" fill="none"/>
<text x="74.9" y="518.4" font-size="9.4" font-weight="bold" text-anchor="end" fill="#111" stroke="#111" stroke-width="0.3">100,000</text>
<text x="75.2" y="673.8" font-size="9.4" font-weight="bold" text-anchor="end" fill="#111" stroke="#111" stroke-width="0.3">10,000</text>
<text x="86" y="699.4" font-size="9.3" font-weight="bold" text-anchor="middle" fill="#111" stroke="#111" stroke-width="0.3">0.001</text>
<text x="143.9" y="699.4" font-size="9.3" font-weight="bold" text-anchor="middle" fill="#111" stroke="#111" stroke-width="0.3">0.01</text>
<text x="202.2" y="699.4" font-size="9.3" font-weight="bold" text-anchor="middle" fill="#111" stroke="#111" stroke-width="0.3">0.1</text>
<text x="261" y="699.4" font-size="9.3" font-weight="bold" text-anchor="middle" fill="#111" stroke="#111" stroke-width="0.3">1</text>
<text x="320.2" y="699.4" font-size="9.3" font-weight="bold" text-anchor="middle" fill="#111" stroke="#111" stroke-width="0.3">10</text>
<text x="153.8" y="713.2" font-size="10" font-weight="bold" textLength="101.5" lengthAdjust="spacingAndGlyphs" fill="#111" stroke="#111" stroke-width="0.3">[Compound] in µmol/L</text>
<text transform="translate(16.7 609.4) rotate(-90)" font-size="11.35" font-weight="bold" textLength="162.7" lengthAdjust="spacingAndGlyphs" fill="#111" stroke="#111" stroke-width="0.3">PPARG Reporter gene activity</text>
<text transform="translate(29.3 583) rotate(-90)" font-size="11.35" font-weight="bold" textLength="102.8" lengthAdjust="spacingAndGlyphs" fill="#111" stroke="#111" stroke-width="0.3">arbitrary light units</text>
<path d="M99.9 463.9V577.2H104" stroke="#a2465e" stroke-width="1.9" stroke-dasharray="5 3.2" fill="none"/>
<path d="M84 577.5H319.5" stroke="#4d6a94" stroke-width="1.7" stroke-dasharray="4.9 3.6" fill="none"/>
<text transform="translate(94.6 571.3) rotate(-90)" font-size="15.2" fill="#cc2a3a" font-family='Carlito, Calibri, "Liberation Sans", sans-serif' textLength="80.5" lengthAdjust="spacingAndGlyphs" stroke="#cc2a3a" stroke-width="0.25">EC<tspan font-size="10.5" dy="2.2">50</tspan><tspan dy="-2.2"> Agonist</tspan></text>
<text x="84.5" y="595.3" font-size="15.4" fill="#111" font-family='Carlito, Calibri, "Liberation Sans", sans-serif' textLength="49.4" lengthAdjust="spacingAndGlyphs" stroke="#111" stroke-width="0.25">Baseline</text>
<path d="M92.0 467.5 L94.9 471.0 L97.8 474.5 L100.7 478.1 L103.5 481.7 L106.4 485.2 L109.3 488.9 L112.2 492.7 L115.1 496.6 L118.0 500.5 L120.9 504.5 L123.7 508.7 L126.6 513.1 L129.5 517.7 L132.4 522.7 L135.3 528.2 L138.2 534.0 L141.1 540.0 L143.9 546.1 L146.8 552.1 L149.7 558.3 L152.6 564.6 L155.5 571.0 L158.4 577.5 L161.3 584.6 L164.2 591.6 L167.0 597.8 L169.9 603.3 L172.8 608.4 L175.7 613.6 L178.6 618.7 L181.5 623.3 L184.4 627.9 L187.2 632.4 L190.1 636.6 L193.0 640.6 L195.9 644.2 L198.8 647.3 L201.7 650.2 L204.6 653.0 L207.4 655.5 L210.3 657.8 L213.2 659.8 L216.1 661.5 L219.0 663.1 L221.9 664.5 L224.8 665.8 L227.6 667.0 L230.5 668.0 L233.4 668.9 L236.3 669.6 L239.2 670.2 L242.1 670.7 L245.0 671.1 L247.8 671.5 L250.7 671.8 L253.6 672.1 L256.5 672.4 L259.4 672.6 L262.3 672.8 L265.2 673.0 L268.1 673.1 L270.9 673.3 L273.8 673.4 L276.7 673.5 L279.6 673.6 L282.5 673.7 L285.4 673.8 L288.3 673.9 L291.1 674.0 L294.0 674.0 L296.9 674.1 L299.8 674.2 L302.7 674.2 L305.6 674.3 L308.5 674.3 L311.3 674.4 L314.2 674.4 L317.1 674.4 L320.0 674.4" stroke="#16935c" stroke-width="1.9" fill="none" stroke-linejoin="round" stroke-linecap="round"/>
<path d="M92.0 464.9 L94.9 465.4 L97.8 465.9 L100.7 466.4 L103.5 467.1 L106.4 467.9 L109.3 468.7 L112.2 469.7 L115.1 470.9 L118.0 472.2 L120.9 473.7 L123.7 475.3 L126.6 477.2 L129.5 479.4 L132.4 481.8 L135.3 484.5 L138.2 487.5 L141.1 490.9 L143.9 494.6 L146.8 498.7 L149.7 503.2 L152.6 508.1 L155.5 513.4 L158.4 519.1 L161.3 525.2 L164.2 531.6 L167.0 538.3 L169.9 545.2 L172.8 552.3 L175.7 559.6 L178.6 566.8 L181.5 574.1 L184.4 581.2 L187.2 588.2 L190.1 594.9 L193.0 601.3 L195.9 607.4 L198.8 613.2 L201.7 618.5 L204.6 623.5 L207.4 628.0 L210.3 632.2 L213.2 636.0 L216.1 639.4 L219.0 642.5 L221.9 645.2 L224.8 647.7 L227.6 649.8 L230.5 651.8 L233.4 653.5 L236.3 655.0 L239.2 656.3 L242.1 657.4 L245.0 658.4 L247.8 659.3 L250.7 660.1 L253.6 660.8 L256.5 661.4 L259.4 661.9 L262.3 662.3 L265.2 662.7 L268.1 663.1 L270.9 663.4 L273.8 663.6 L276.7 663.8 L279.6 664.0 L282.5 664.2 L285.4 664.3 L288.3 664.5 L291.1 664.6 L294.0 664.7 L296.9 664.8 L299.8 664.8 L302.7 664.9 L305.6 665.0 L308.5 665.0 L311.3 665.0 L314.2 665.1 L317.1 665.1 L320.0 665.1" stroke="#1f226e" stroke-width="1.9" fill="none" stroke-linejoin="round" stroke-linecap="round"/>
<path d="M92.0 468.1 L94.9 469.0 L97.8 469.9 L100.7 470.9 L103.5 471.9 L106.4 473.0 L109.3 474.1 L112.2 475.2 L115.1 476.4 L118.0 477.6 L120.9 478.9 L123.7 480.2 L126.6 481.6 L129.5 483.0 L132.4 484.4 L135.3 485.9 L138.2 487.4 L141.1 488.9 L143.9 490.5 L146.8 492.1 L149.7 493.7 L152.6 495.4 L155.5 497.0 L158.4 498.7 L161.3 500.5 L164.2 502.2 L167.0 503.9 L169.9 505.7 L172.8 507.4 L175.7 509.2 L178.6 510.9 L181.5 512.7 L184.4 514.4 L187.2 516.1 L190.1 517.8 L193.0 519.5 L195.9 521.1 L198.8 522.8 L201.7 524.4 L204.6 525.9 L207.4 527.5 L210.3 529.0 L213.2 530.4 L216.1 531.9 L219.0 533.3 L221.9 534.6 L224.8 535.9 L227.6 537.2 L230.5 538.4 L233.4 539.6 L236.3 540.7 L239.2 541.8 L242.1 542.9 L245.0 543.9 L247.8 544.9 L250.7 545.8 L253.6 546.7 L256.5 547.6 L259.4 548.4 L262.3 549.2 L265.2 549.9 L268.1 550.6 L270.9 551.3 L273.8 551.9 L276.7 552.5 L279.6 553.1 L282.5 553.7 L285.4 554.2 L288.3 554.7 L291.1 555.2 L294.0 555.6 L296.9 556.0 L299.8 556.4 L302.7 556.8 L305.6 557.1 L308.5 557.5 L311.3 557.8 L314.2 558.1 L317.1 558.4 L320.0 558.7" stroke="#159458" stroke-width="1.9" fill="none" stroke-linejoin="round" stroke-linecap="round"/>
<path d="M92.0 457.1 L94.9 457.1 L97.8 457.1 L100.7 457.1 L103.5 457.1 L106.4 457.1 L109.3 457.1 L112.2 457.1 L115.1 457.1 L118.0 457.1 L120.9 457.1 L123.7 457.1 L126.6 457.1 L129.5 457.1 L132.4 457.1 L135.3 457.1 L138.2 457.1 L141.1 457.1 L143.9 457.1 L146.8 457.1 L149.7 457.1 L152.6 457.1 L155.5 457.1 L158.4 457.1 L161.3 457.2 L164.2 457.2 L167.0 457.2 L169.9 457.2 L172.8 457.2 L175.7 457.2 L178.6 457.2 L181.5 457.2 L184.4 457.2 L187.2 457.3 L190.1 457.3 L193.0 457.3 L195.9 457.3 L198.8 457.4 L201.7 457.4 L204.6 457.5 L207.4 457.6 L210.3 457.6 L213.2 457.7 L216.1 457.8 L219.0 457.9 L221.9 458.1 L224.8 458.2 L227.6 458.4 L230.5 458.7 L233.4 458.9 L236.3 459.2 L239.2 459.6 L242.1 460.0 L245.0 460.4 L247.8 461.0 L250.7 461.6 L253.6 462.3 L256.5 463.1 L259.4 463.9 L262.3 464.9 L265.2 466.0 L268.1 467.2 L270.9 468.6 L273.8 470.0 L276.7 471.5 L279.6 473.1 L282.5 474.8 L285.4 476.5 L288.3 478.3 L291.1 480.0 L294.0 481.8 L296.9 483.5 L299.8 485.2 L302.7 486.7 L305.6 488.2 L308.5 489.6 L311.3 490.9 L314.2 492.1 L317.1 493.1 L320.0 494.1" stroke="#777777" stroke-width="1.9" fill="none" stroke-linejoin="round" stroke-linecap="round"/>
<path d="M92.0 455.2 L94.9 455.2 L97.8 455.2 L100.7 455.2 L103.5 455.2 L106.4 455.2 L109.3 455.2 L112.2 455.2 L115.1 455.2 L118.0 455.2 L120.9 455.2 L123.7 455.2 L126.6 455.2 L129.5 455.3 L132.4 455.3 L135.3 455.3 L138.2 455.3 L141.1 455.3 L143.9 455.3 L146.8 455.3 L149.7 455.3 L152.6 455.3 L155.5 455.3 L158.4 455.4 L161.3 455.4 L164.2 455.4 L167.0 455.4 L169.9 455.4 L172.8 455.4 L175.7 455.4 L178.6 455.5 L181.5 455.5 L184.4 455.5 L187.2 455.5 L190.1 455.5 L193.0 455.6 L195.9 455.6 L198.8 455.6 L201.7 455.6 L204.6 455.6 L207.4 455.7 L210.3 455.7 L213.2 455.8 L216.1 455.9 L219.0 456.0 L221.9 456.0 L224.8 456.1 L227.6 456.2 L230.5 456.3 L233.4 456.3 L236.3 456.4 L239.2 456.5 L242.1 456.5 L245.0 456.6 L247.8 456.6 L250.7 456.7 L253.6 456.7 L256.5 456.7 L259.4 456.8 L262.3 456.8 L265.2 456.9 L268.1 456.9 L270.9 457.0 L273.8 457.0 L276.7 457.1 L279.6 457.2 L282.5 457.3 L285.4 457.5 L288.3 458.0 L291.1 458.9 L294.0 460.1 L296.9 461.4 L299.8 462.9 L302.7 464.2 L305.6 465.7 L308.5 467.3 L311.3 469.0 L314.2 470.9 L317.1 472.8 L320.0 474.9" stroke="#a87a36" stroke-width="1.9" fill="none" stroke-linejoin="round" stroke-linecap="round"/>
<path d="M92.0 455.5 L94.9 455.5 L97.8 455.5 L100.7 455.5 L103.5 455.5 L106.4 455.5 L109.3 455.4 L112.2 455.4 L115.1 455.4 L118.0 455.4 L120.9 455.4 L123.7 455.4 L126.6 455.4 L129.5 455.3 L132.4 455.3 L135.3 455.3 L138.2 455.2 L141.1 455.2 L143.9 455.1 L146.8 455.0 L149.7 454.9 L152.6 454.8 L155.5 454.6 L158.4 454.5 L161.3 454.2 L164.2 454.0 L167.0 453.7 L169.9 453.4 L172.8 453.1 L175.7 452.8 L178.6 452.4 L181.5 452.1 L184.4 451.7 L187.2 451.4 L190.1 451.0 L193.0 450.8 L195.9 450.5 L198.8 450.2 L201.7 450.0 L204.6 449.9 L207.4 449.7 L210.3 449.6 L213.2 449.5 L216.1 449.4 L219.0 449.3 L221.9 449.3 L224.8 449.2 L227.6 449.2 L230.5 449.2 L233.4 449.1 L236.3 449.1 L239.2 449.1 L242.1 449.1 L245.0 449.1 L247.8 449.1 L250.7 449.1 L253.6 449.1 L256.5 449.0 L259.4 449.0 L262.3 449.0 L265.2 449.0 L268.1 449.0 L270.9 449.0 L273.8 449.0 L276.7 449.0 L279.6 449.0 L282.5 449.0 L285.4 449.0 L288.3 449.0 L291.1 449.0 L294.0 449.0 L296.9 449.0 L299.8 449.0 L302.7 449.0 L305.6 449.0 L308.5 449.0 L311.3 449.0 L314.2 449.0 L317.1 449.0 L320.0 449.0" stroke="#3a3a3a" stroke-width="1.9" fill="none" stroke-linejoin="round" stroke-linecap="round"/>
<path d="M92.0 455.5 L94.9 455.4 L97.8 455.4 L100.7 455.4 L103.5 455.4 L106.4 455.3 L109.3 455.3 L112.2 455.3 L115.1 455.2 L118.0 455.2 L120.9 455.1 L123.7 455.1 L126.6 455.0 L129.5 454.9 L132.4 454.8 L135.3 454.8 L138.2 454.6 L141.1 454.5 L143.9 454.4 L146.8 454.2 L149.7 454.1 L152.6 453.9 L155.5 453.7 L158.4 453.4 L161.3 453.1 L164.2 452.8 L167.0 452.5 L169.9 452.2 L172.8 451.8 L175.7 451.3 L178.6 450.8 L181.5 450.3 L184.4 449.8 L187.2 449.2 L190.1 448.5 L193.0 447.8 L195.9 447.1 L198.8 446.3 L201.7 445.5 L204.6 444.7 L207.4 443.9 L210.3 443.0 L213.2 442.1 L216.1 441.3 L219.0 440.4 L221.9 439.5 L224.8 438.7 L227.6 437.9 L230.5 437.1 L233.4 436.3 L236.3 435.6 L239.2 434.9 L242.1 434.3 L245.0 433.7 L247.8 433.1 L250.7 432.6 L253.6 432.1 L256.5 431.7 L259.4 431.3 L262.3 431.0 L265.2 430.6 L268.1 430.4 L270.9 430.1 L273.8 429.9 L276.7 429.6 L279.6 429.5 L282.5 429.3 L285.4 429.1 L288.3 429.0 L291.1 428.9 L294.0 428.8 L296.9 428.7 L299.8 428.6 L302.7 428.5 L305.6 428.5 L308.5 428.4 L311.3 428.4 L314.2 428.3 L317.1 428.3 L320.0 428.2" stroke="#f3832a" stroke-width="1.9" fill="none" stroke-linejoin="round" stroke-linecap="round"/>
<path d="M92.0 454.6 L94.9 454.6 L97.8 454.6 L100.7 454.6 L103.5 454.6 L106.4 454.6 L109.3 454.5 L112.2 454.5 L115.1 454.5 L118.0 454.5 L120.9 454.5 L123.7 454.5 L126.6 454.4 L129.5 454.4 L132.4 454.4 L135.3 454.3 L138.2 454.3 L141.1 454.3 L143.9 454.2 L146.8 454.2 L149.7 454.1 L152.6 454.0 L155.5 453.9 L158.4 453.9 L161.3 453.7 L164.2 453.5 L167.0 453.2 L169.9 452.7 L172.8 452.2 L175.7 451.5 L178.6 450.8 L181.5 450.1 L184.4 449.3 L187.2 448.5 L190.1 447.7 L193.0 446.9 L195.9 446.1 L198.8 445.3 L201.7 444.6 L204.6 443.7 L207.4 442.7 L210.3 441.7 L213.2 440.6 L216.1 439.5 L219.0 438.4 L221.9 437.4 L224.8 436.4 L227.6 435.5 L230.5 434.7 L233.4 434.1 L236.3 433.7 L239.2 433.4 L242.1 433.4 L245.0 433.3 L247.8 433.3 L250.7 433.2 L253.6 433.2 L256.5 433.2 L259.4 433.1 L262.3 433.1 L265.2 433.1 L268.1 433.0 L270.9 433.0 L273.8 432.9 L276.7 432.9 L279.6 432.9 L282.5 432.8 L285.4 432.8 L288.3 432.7 L291.1 432.7 L294.0 432.7 L296.9 432.6 L299.8 432.6 L302.7 432.5 L305.6 432.5 L308.5 432.5 L311.3 432.4 L314.2 432.4 L317.1 432.3 L320.0 432.3" stroke="#ee6e6e" stroke-width="1.9" fill="none" stroke-linejoin="round" stroke-linecap="round"/>
<path d="M92.0 456.2 L94.9 456.2 L97.8 456.2 L100.7 456.2 L103.5 456.2 L106.4 456.2 L109.3 456.2 L112.2 456.2 L115.1 456.2 L118.0 456.2 L120.9 456.2 L123.7 456.2 L126.6 456.2 L129.5 456.2 L132.4 456.2 L135.3 456.2 L138.2 456.2 L141.1 456.2 L143.9 456.2 L146.8 456.2 L149.7 456.2 L152.6 456.2 L155.5 456.2 L158.4 456.2 L161.3 456.2 L164.2 456.3 L167.0 456.3 L169.9 456.3 L172.8 456.3 L175.7 456.3 L178.6 456.3 L181.5 456.3 L184.4 456.3 L187.2 456.3 L190.1 456.3 L193.0 456.3 L195.9 456.3 L198.8 456.3 L201.7 456.3 L204.6 456.3 L207.4 456.3 L210.3 456.3 L213.2 456.3 L216.1 456.3 L219.0 456.3 L221.9 456.3 L224.8 456.3 L227.6 456.4 L230.5 456.4 L233.4 456.4 L236.3 456.4 L239.2 456.4 L242.1 456.4 L245.0 456.5 L247.8 456.7 L250.7 456.9 L253.6 457.2 L256.5 457.5 L259.4 457.8 L262.3 458.1 L265.2 458.5 L268.1 458.8 L270.9 459.3 L273.8 459.9 L276.7 460.5 L279.6 461.1 L282.5 461.8 L285.4 462.5 L288.3 463.2 L291.1 463.9 L294.0 464.6 L296.9 465.4 L299.8 466.3 L302.7 467.2 L305.6 468.4 L308.5 469.8 L311.3 471.3 L314.2 472.9 L317.1 474.6 L320.0 476.5" stroke="#111111" stroke-width="1.9" fill="none" stroke-linejoin="round" stroke-linecap="round"/>
<path d="M92.0 457.0 L94.9 457.0 L97.8 457.0 L100.6 457.0 L103.5 457.0 L106.4 457.0 L109.3 457.0 L112.2 457.0 L115.0 457.0 L117.9 457.0 L120.8 457.0 L123.7 457.0 L126.6 457.0 L129.5 457.0 L132.3 457.0 L135.2 457.0 L138.1 457.0 L141.0 457.0 L143.9 457.0 L146.7 457.0 L149.6 457.0 L152.5 457.0 L155.4 457.1 L158.3 457.3 L161.1 457.5 L164.0 457.7 L166.9 458.0 L169.8 458.4 L172.7 458.7 L175.5 459.1 L178.4 459.6 L181.3 460.2 L184.2 461.0 L187.1 461.9 L190.0 462.9 L192.8 464.1 L195.7 465.3 L198.6 467.0 L201.5 469.2 L204.4 471.6 L207.2 474.3 L210.1 477.2 L213.0 480.1 L215.9 482.9 L218.8 485.7 L221.6 488.7 L224.5 491.8 L227.4 495.1 L230.3 498.3 L233.2 501.7 L236.1 505.2 L238.9 508.8 L241.8 512.4 L244.7 516.1 L247.6 519.8 L250.5 523.4 L253.3 527.1 L256.2 530.7 L259.1 534.4 L262.0 538.1 L264.9 541.8 L267.7 545.4 L270.6 549.1 L273.5 552.7 L276.4 556.3 L279.3 559.9 L282.1 563.6 L285.0 567.3 L287.9 571.1 L290.8 575.1 L293.7 579.0 L296.6 582.7 L299.4 586.2 L302.3 589.6 L305.2 592.8 L308.1 596.0 L311.0 599.0 L313.8 602.0 L316.7 604.7 L319.6 607.4" stroke="#2c2c2c" stroke-width="1.9" fill="none" stroke-linejoin="round" stroke-linecap="round"/>
<path d="M92.0 457.4 L94.9 457.4 L97.8 457.4 L100.6 457.4 L103.5 457.4 L106.4 457.4 L109.3 457.4 L112.2 457.4 L115.0 457.4 L117.9 457.4 L120.8 457.4 L123.7 457.4 L126.6 457.4 L129.5 457.4 L132.3 457.4 L135.2 457.4 L138.1 457.4 L141.0 457.4 L143.9 457.4 L146.7 457.4 L149.6 457.4 L152.5 457.4 L155.4 457.6 L158.3 457.9 L161.1 458.2 L164.0 458.7 L166.9 459.2 L169.8 459.7 L172.7 460.3 L175.5 460.9 L178.4 461.6 L181.3 462.2 L184.2 463.0 L187.1 463.9 L190.0 464.9 L192.8 466.1 L195.7 467.5 L198.6 469.2 L201.5 471.4 L204.4 473.9 L207.2 476.7 L210.1 479.5 L213.0 482.4 L215.9 485.3 L218.8 488.1 L221.6 491.1 L224.5 494.2 L227.4 497.5 L230.3 500.9 L233.2 504.5 L236.1 508.4 L238.9 512.5 L241.8 516.8 L244.7 521.1 L247.6 525.3 L250.5 529.4 L253.3 533.6 L256.2 537.5 L259.1 541.0 L262.0 543.9 L264.9 546.7 L267.7 549.4 L270.6 551.9 L273.5 554.4 L276.4 556.9 L279.3 559.3 L282.1 561.6 L285.0 563.7 L287.9 565.5 L290.8 567.0 L293.7 568.3 L296.6 569.4 L299.4 570.4 L302.3 571.3 L305.2 572.2 L308.1 573.0 L311.0 573.7 L313.8 574.4 L316.7 575.0 L319.6 575.5" stroke="#2a2f86" stroke-width="1.9" fill="none" stroke-linejoin="round" stroke-linecap="round"/>
<path d="M80.0 455.9 L82.3 455.7 L84.6 455.5 L86.8 455.2 L89.1 454.9 L91.4 454.6 L93.7 454.2 L95.9 453.8 L98.2 453.3 L100.5 452.8 L102.8 452.2 L105.1 451.6 L107.3 450.9 L109.6 450.2 L111.9 449.5 L114.2 448.7 L116.5 447.8 L118.7 446.9 L121.0 446.1 L123.3 445.2 L125.6 444.2 L127.8 443.4 L130.1 442.5 L132.4 441.6 L134.7 440.8 L137.0 440.0 L139.2 439.3 L141.5 438.6 L143.8 438.0 L146.1 437.4 L148.4 436.9 L150.6 436.4 L152.9 436.0 L155.2 435.6 L157.5 435.2 L159.7 434.9 L162.0 434.7 L164.3 434.4 L166.6 434.2 L168.9 434.0 L171.1 433.9 L173.4 433.7 L175.7 433.6 L178.0 433.5 L180.3 433.4 L182.5 433.3 L184.8 433.2 L187.1 433.2 L189.4 433.1 L191.6 433.1 L193.9 433.0 L196.2 433.0 L198.5 433.0 L200.8 432.9 L203.0 432.9 L205.3 432.9 L207.6 432.9 L209.9 432.9 L212.2 432.9 L214.4 432.8 L216.7 432.8 L219.0 432.8 L221.3 432.8 L223.5 432.8 L225.8 432.8 L228.1 432.8 L230.4 432.8 L232.7 432.8 L234.9 432.8 L237.2 432.8 L239.5 432.8 L241.8 432.8 L244.1 432.8 L246.3 432.8 L248.6 432.8 L250.9 432.8 L253.2 432.8 L255.4 432.8 L257.7 432.8 L260.0 432.8" stroke="#5c1020" stroke-width="1.9" fill="none" stroke-linejoin="round" stroke-linecap="round"/>
<path d="M103.7 482.5 L106.2 487.0 L101.2 487.0Z" fill="#16935c"/>
<path d="M131.3 502.2 L133.8 506.7 L128.8 506.7Z" fill="#16935c"/>
<path d="M144.4 546.9 L146.9 551.4 L141.9 551.4Z" fill="#16935c"/>
<path d="M162.0 579.3 L164.5 583.8 L159.5 583.8Z" fill="#16935c"/>
<path d="M179.7 619.3 L182.2 623.8 L177.2 623.8Z" fill="#16935c"/>
<path d="M197.0 643.0 L199.5 647.5 L194.5 647.5Z" fill="#16935c"/>
<path d="M214.4 658.0 L216.9 662.5 L211.9 662.5Z" fill="#16935c"/>
<path d="M231.8 665.9 L234.3 670.4 L229.3 670.4Z" fill="#16935c"/>
<path d="M250.0 676.1 L252.5 680.6 L247.5 680.6Z" fill="#16935c"/>
<path d="M267.0 670.6 L269.5 675.1 L264.5 675.1Z" fill="#16935c"/>
<path d="M284.5 672.5 L287.0 677.0 L282.0 677.0Z" fill="#16935c"/>
<path d="M302.0 673.4 L304.5 677.9 L299.5 677.9Z" fill="#16935c"/>
<path d="M320.0 671.9 L322.5 676.4 L317.5 676.4Z" fill="#16935c"/>
<path d="M103.7 464.4 L105.8 467.0 L103.7 469.6 L101.6 467.0Z" fill="#1f226e"/>
<path d="M144.4 502.1 L146.5 504.7 L144.4 507.3 L142.3 504.7Z" fill="#1f226e"/>
<path d="M162.5 525.4 L164.6 528.0 L162.5 530.6 L160.4 528.0Z" fill="#1f226e"/>
<path d="M179.5 568.2 L181.6 570.8 L179.5 573.4 L177.4 570.8Z" fill="#1f226e"/>
<path d="M197.0 599.7 L199.1 602.3 L197.0 604.9 L194.9 602.3Z" fill="#1f226e"/>
<path d="M214.4 626.0 L216.5 628.6 L214.4 631.2 L212.3 628.6Z" fill="#1f226e"/>
<path d="M232.6 651.6 L234.7 654.2 L232.6 656.8 L230.5 654.2Z" fill="#1f226e"/>
<path d="M250.0 655.5 L252.1 658.1 L250.0 660.7 L247.9 658.1Z" fill="#1f226e"/>
<path d="M267.0 661.8 L269.1 664.4 L267.0 667.0 L264.9 664.4Z" fill="#1f226e"/>
<path d="M284.5 665.0 L286.6 667.6 L284.5 670.2 L282.4 667.6Z" fill="#1f226e"/>
<path d="M302.0 668.6 L304.1 671.2 L302.0 673.8 L299.9 671.2Z" fill="#1f226e"/>
<path d="M320.0 662.9 L322.1 665.5 L320.0 668.1 L317.9 665.5Z" fill="#1f226e"/>
<rect x="90.6" y="465.6" width="3.8" height="3.8" fill="#fff" stroke="#159458" stroke-width="1.2"/>
<rect x="101.8" y="471.2" width="3.8" height="3.8" fill="#fff" stroke="#159458" stroke-width="1.2"/>
<rect x="129.4" y="475.5" width="3.8" height="3.8" fill="#fff" stroke="#159458" stroke-width="1.2"/>
<rect x="142.5" y="487.0" width="3.8" height="3.8" fill="#fff" stroke="#159458" stroke-width="1.2"/>
<rect x="160.1" y="503.9" width="3.8" height="3.8" fill="#fff" stroke="#159458" stroke-width="1.2"/>
<rect x="177.1" y="511.9" width="3.8" height="3.8" fill="#fff" stroke="#159458" stroke-width="1.2"/>
<rect x="195.1" y="521.2" width="3.8" height="3.8" fill="#fff" stroke="#159458" stroke-width="1.2"/>
<rect x="212.7" y="523.0" width="3.8" height="3.8" fill="#fff" stroke="#159458" stroke-width="1.2"/>
<rect x="230.1" y="539.6" width="3.8" height="3.8" fill="#fff" stroke="#159458" stroke-width="1.2"/>
<rect x="248.1" y="543.1" width="3.8" height="3.8" fill="#fff" stroke="#159458" stroke-width="1.2"/>
<rect x="265.1" y="549.1" width="3.8" height="3.8" fill="#fff" stroke="#159458" stroke-width="1.2"/>
<rect x="282.6" y="555.5" width="3.8" height="3.8" fill="#fff" stroke="#159458" stroke-width="1.2"/>
<rect x="300.1" y="547.6" width="3.8" height="3.8" fill="#fff" stroke="#159458" stroke-width="1.2"/>
<rect x="318.1" y="568.1" width="3.8" height="3.8" fill="#fff" stroke="#159458" stroke-width="1.2"/>
<path d="M267.0 470.4 L269.3 466.3 L264.7 466.3Z" fill="#777777"/>
<path d="M284.5 478.0 L286.8 473.9 L282.2 473.9Z" fill="#777777"/>
<path d="M302.0 492.0 L304.3 487.9 L299.7 487.9Z" fill="#777777"/>
<path d="M320.0 496.0 L322.3 491.9 L317.7 491.9Z" fill="#777777"/>
<rect x="128.9" y="458.6" width="4.8" height="4.8" fill="#a87a36"/>
<rect x="229.6" y="452.0" width="4.8" height="4.8" fill="#a87a36"/>
<rect x="247.6" y="459.1" width="4.8" height="4.8" fill="#a87a36"/>
<rect x="282.1" y="454.1" width="4.8" height="4.8" fill="#a87a36"/>
<rect x="317.6" y="470.9" width="4.8" height="4.8" fill="#a87a36"/>
<path d="M197.0 445.9 L199.7 450.8 L194.3 450.8Z" fill="#3a3a3a"/>
<path d="M214.0 445.9 L216.7 450.8 L211.3 450.8Z" fill="#3a3a3a"/>
<path d="M232.0 445.9 L234.7 450.8 L229.3 450.8Z" fill="#3a3a3a"/>
<path d="M250.0 446.6 L252.7 451.5 L247.3 451.5Z" fill="#3a3a3a"/>
<path d="M267.7 445.3 L270.4 450.2 L265.0 450.2Z" fill="#3a3a3a"/>
<path d="M284.5 445.5 L287.2 450.4 L281.8 450.4Z" fill="#3a3a3a"/>
<path d="M302.0 454.1 L304.7 459.0 L299.3 459.0Z" fill="#3a3a3a"/>
<path d="M320.0 466.7 L322.7 471.6 L317.3 471.6Z" fill="#3a3a3a"/>
<path d="M176.7 445.0L181.3 449.6M181.3 445.0L176.7 449.6" stroke="#f3832a" stroke-width="1.2" fill="none"/>
<path d="M211.7 441.1L216.3 445.7M216.3 441.1L211.7 445.7" stroke="#f3832a" stroke-width="1.2" fill="none"/>
<path d="M227.7 435.2L232.3 439.8M232.3 435.2L227.7 439.8" stroke="#f3832a" stroke-width="1.2" fill="none"/>
<path d="M299.7 426.1L304.3 430.7M304.3 426.1L299.7 430.7" stroke="#f3832a" stroke-width="1.2" fill="none"/>
<path d="M317.7 430.8L322.3 435.4M322.3 430.8L317.7 435.4" stroke="#f3832a" stroke-width="1.2" fill="none"/>
<circle cx="179.0" cy="447.3" r="2.7" fill="#ee6e6e"/>
<circle cx="197.0" cy="441.8" r="2.7" fill="#ee6e6e"/>
<circle cx="267.0" cy="425.6" r="2.7" fill="#ee6e6e"/>
<circle cx="284.5" cy="426.8" r="2.7" fill="#ee6e6e"/>
<circle cx="302.0" cy="434.7" r="2.7" fill="#ee6e6e"/>
<circle cx="320.0" cy="439.4" r="2.7" fill="#ee6e6e"/>
<circle cx="92.0" cy="461.2" r="2.2" fill="#111111"/>
<circle cx="103.4" cy="452.0" r="2.2" fill="#111111"/>
<circle cx="131.5" cy="451.5" r="2.2" fill="#111111"/>
<circle cx="161.8" cy="455.8" r="2.2" fill="#111111"/>
<circle cx="179.0" cy="452.8" r="2.2" fill="#111111"/>
<circle cx="197.0" cy="455.5" r="2.2" fill="#111111"/>
<circle cx="214.0" cy="456.0" r="2.2" fill="#111111"/>
<circle cx="232.0" cy="460.7" r="2.2" fill="#111111"/>
<circle cx="250.0" cy="456.0" r="2.2" fill="#111111"/>
<circle cx="267.0" cy="458.7" r="2.2" fill="#111111"/>
<circle cx="284.5" cy="463.1" r="2.2" fill="#111111"/>
<circle cx="302.0" cy="467.0" r="2.2" fill="#111111"/>
<circle cx="320.0" cy="478.0" r="2.2" fill="#111111"/>
<circle cx="197.0" cy="470.0" r="2.0" fill="#2c2c2c"/>
<circle cx="232.7" cy="498.1" r="2.0" fill="#2c2c2c"/>
<circle cx="249.5" cy="527.0" r="2.0" fill="#2c2c2c"/>
<circle cx="284.5" cy="565.2" r="2.0" fill="#2c2c2c"/>
<circle cx="302.0" cy="583.2" r="2.0" fill="#2c2c2c"/>
<circle cx="320.0" cy="614.1" r="2.0" fill="#2c2c2c"/>
<path d="M92.0 458.1 L94.3 454.0 L89.7 454.0Z" fill="#fff" stroke="#2a2f86" stroke-width="1.2"/>
<path d="M103.4 456.3 L105.7 452.2 L101.1 452.2Z" fill="#fff" stroke="#2a2f86" stroke-width="1.2"/>
<path d="M131.5 461.3 L133.8 457.2 L129.2 457.2Z" fill="#fff" stroke="#2a2f86" stroke-width="1.2"/>
<path d="M144.6 458.9 L146.9 454.8 L142.3 454.8Z" fill="#fff" stroke="#2a2f86" stroke-width="1.2"/>
<path d="M161.8 461.3 L164.1 457.2 L159.5 457.2Z" fill="#fff" stroke="#2a2f86" stroke-width="1.2"/>
<path d="M180.0 463.1 L182.3 459.0 L177.7 459.0Z" fill="#fff" stroke="#2a2f86" stroke-width="1.2"/>
<path d="M195.0 468.1 L197.3 464.0 L192.7 464.0Z" fill="#fff" stroke="#2a2f86" stroke-width="1.2"/>
<path d="M215.2 486.2 L217.5 482.1 L212.9 482.1Z" fill="#fff" stroke="#2a2f86" stroke-width="1.2"/>
<path d="M232.7 503.7 L235.0 499.6 L230.4 499.6Z" fill="#fff" stroke="#2a2f86" stroke-width="1.2"/>
<path d="M250.2 534.7 L252.5 530.6 L247.9 530.6Z" fill="#fff" stroke="#2a2f86" stroke-width="1.2"/>
<path d="M267.0 549.6 L269.3 545.5 L264.7 545.5Z" fill="#fff" stroke="#2a2f86" stroke-width="1.2"/>
<path d="M302.0 573.1 L304.3 569.0 L299.7 569.0Z" fill="#fff" stroke="#2a2f86" stroke-width="1.2"/>
<path d="M320.0 589.6 L322.3 585.5 L317.7 585.5Z" fill="#fff" stroke="#2a2f86" stroke-width="1.2"/>
<path d="M83.9 452.3H88.5M86.2 450.0V454.6" stroke="#5c1020" stroke-width="1.1" fill="none"/>
<path d="M118.7 438.9H123.3M121.0 436.6V441.2" stroke="#5c1020" stroke-width="1.1" fill="none"/>
<path d="M136.1 440.5H140.7M138.4 438.2V442.8" stroke="#5c1020" stroke-width="1.1" fill="none"/>
<path d="M153.7 437.3H158.3M156.0 435.0V439.6" stroke="#5c1020" stroke-width="1.1" fill="none"/>
<path d="M171.7 430.8H176.3M174.0 428.5V433.1" stroke="#5c1020" stroke-width="1.1" fill="none"/>
<path d="M189.2 428.4H193.8M191.5 426.1V430.7" stroke="#5c1020" stroke-width="1.1" fill="none"/>
<path d="M206.7 430.8H211.3M209.0 428.5V433.1" stroke="#5c1020" stroke-width="1.1" fill="none"/>
<path d="M223.7 432.3H228.3M226.0 430.0V434.6" stroke="#5c1020" stroke-width="1.1" fill="none"/>
<path d="M241.7 440.7H246.3M244.0 438.4V443.0" stroke="#5c1020" stroke-width="1.1" fill="none"/>
<path d="M258.7 444.5H263.3M261.0 442.2V446.8" stroke="#5c1020" stroke-width="1.1" fill="none"/>
<path d="M331.5 424.6H343" stroke="#f3832a" stroke-width="1.9"/>
<path d="M335.1 422.4L339.4 426.8M339.4 422.4L335.1 426.8" stroke="#f3832a" stroke-width="1.2" fill="none"/>
<text x="348.8" y="428.9" font-size="10.3" textLength="52.0" lengthAdjust="spacingAndGlyphs" fill="#111" stroke="#111" stroke-width="0.25">Pioglitazone</text>
<path d="M331.5 434.2H343" stroke="#5c1020" stroke-width="1.9"/>
<path d="M335.1 434.2H339.4M337.2 432.0V436.4" stroke="#5c1020" stroke-width="1.1" fill="none"/>
<text x="348.8" y="438.5" font-size="10.3" textLength="38.5" lengthAdjust="spacingAndGlyphs" fill="#111" stroke="#111" stroke-width="0.25">GW1929</text>
<path d="M331.5 443.8H343" stroke="#ee6e6e" stroke-width="1.9"/>
<circle cx="337.2" cy="443.8" r="2.3" fill="#ee6e6e"/>
<text x="348.8" y="448.1" font-size="10.3" textLength="51.0" lengthAdjust="spacingAndGlyphs" fill="#111" stroke="#111" stroke-width="0.25">Tesaglitazar</text>
<path d="M331.5 478.7H343" stroke="#111111" stroke-width="1.9"/>
<circle cx="337.2" cy="478.7" r="2.3" fill="#111111"/>
<text x="348.8" y="483.0" font-size="10.3" textLength="28.9" lengthAdjust="spacingAndGlyphs" fill="#111" stroke="#111" stroke-width="0.25">SR202</text>
<path d="M331.5 488.8H343" stroke="#3a3a3a" stroke-width="1.9"/>
<path d="M337.2 486.4 L339.7 490.7 L334.8 490.7Z" fill="#3a3a3a"/>
<text x="348.8" y="493.1" font-size="10.3" textLength="37.5" lengthAdjust="spacingAndGlyphs" fill="#111" stroke="#111" stroke-width="0.25">UVI3003</text>
<path d="M331.5 498.8H343" stroke="#a87a36" stroke-width="1.9"/>
<rect x="334.9" y="496.5" width="4.6" height="4.6" fill="#a87a36"/>
<text x="348.8" y="503.1" font-size="10.3" textLength="33.1" lengthAdjust="spacingAndGlyphs" fill="#111" stroke="#111" stroke-width="0.25">BADGE</text>
<path d="M331.5 508.5H343" stroke="#777777" stroke-width="1.9"/>
<path d="M337.2 510.7 L339.4 506.8 L335.1 506.8Z" fill="#777777"/>
<text x="348.8" y="512.8" font-size="10.3" textLength="34.3" lengthAdjust="spacingAndGlyphs" fill="#111" stroke="#111" stroke-width="0.25">SR1664</text>
<path d="M331.5 562.7H343" stroke="#159458" stroke-width="1.9"/>
<rect x="335.4" y="560.9" width="3.7" height="3.7" fill="#fff" stroke="#159458" stroke-width="1.2"/>
<text x="348.8" y="567.0" font-size="10.3" textLength="38.5" lengthAdjust="spacingAndGlyphs" fill="#111" stroke="#111" stroke-width="0.25">GW9662</text>
<path d="M331.5 572.3H343" stroke="#2a2f86" stroke-width="1.9"/>
<path d="M337.2 574.5 L339.4 570.6 L335.1 570.6Z" fill="#fff" stroke="#2a2f86" stroke-width="1.2"/>
<text x="348.8" y="576.6" font-size="10.3" textLength="34.7" lengthAdjust="spacingAndGlyphs" fill="#111" stroke="#111" stroke-width="0.25">SR2595</text>
<path d="M331.5 612.1H343" stroke="#2c2c2c" stroke-width="1.9"/>
<circle cx="337.2" cy="612.1" r="2.3" fill="#2c2c2c"/>
<text x="348.8" y="616.4" font-size="10.3" textLength="37.5" lengthAdjust="spacingAndGlyphs" fill="#111" stroke="#111" stroke-width="0.25">GW6471</text>
<path d="M331.5 664.1H343" stroke="#1f226e" stroke-width="1.9"/>
<path d="M337.2 661.6 L339.3 664.1 L337.2 666.6 L335.2 664.1Z" fill="#1f226e"/>
<text x="348.8" y="667.4" font-size="10.3" textLength="41.6" lengthAdjust="spacingAndGlyphs" fill="#111" stroke="#111" stroke-width="0.25">SR10221</text>
<path d="M331.5 674.1H343" stroke="#16935c" stroke-width="1.9"/>
<path d="M337.2 671.7 L339.7 676.0 L334.8 676.0Z" fill="#16935c"/>
<text x="348.8" y="677.3" font-size="10.3" textLength="43.5" lengthAdjust="spacingAndGlyphs" fill="#111" stroke="#111" stroke-width="0.25">T0070907</text>
<text x="409" y="451.3" font-size="14" font-weight="bold" fill="#c21a2e" textLength="53.8" lengthAdjust="spacingAndGlyphs" stroke="#c21a2e" stroke-width="0.22">Agonists</text>
<text x="409" y="498.3" font-size="14" font-weight="bold" fill="#3f3f3f" textLength="94.9" lengthAdjust="spacingAndGlyphs" stroke="#3f3f3f" stroke-width="0.22">Partial agonists</text>
<text x="409" y="567.5" font-size="14" font-weight="bold" fill="#4360a8" textLength="72.8" lengthAdjust="spacingAndGlyphs" stroke="#4360a8" stroke-width="0.22">Antagonists</text>
<text x="409.2" y="672.6" font-size="14" font-weight="bold" fill="#1c1f66" textLength="101.1" lengthAdjust="spacingAndGlyphs" stroke="#1c1f66" stroke-width="0.22">Inverse agonists</text>
</svg>
</body></html>
